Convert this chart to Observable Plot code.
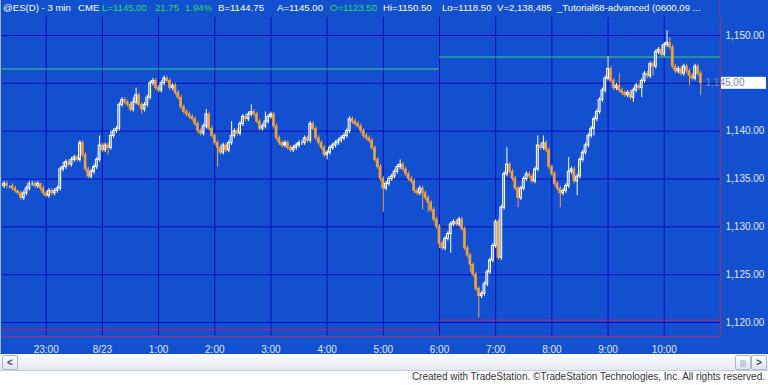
<!DOCTYPE html>
<html>
<head>
<meta charset="utf-8">
<script src="https://cdn.jsdelivr.net/npm/d3@7"></script>
<script src="https://cdn.jsdelivr.net/npm/@observablehq/plot@0.6"></script>
<style>
html,body{margin:0;padding:0;background:#fff;width:768px;height:385px;overflow:hidden;font-family:"Liberation Sans",Arial,sans-serif;}
#wrap{position:relative;width:768px;height:385px;}
#header{position:absolute;left:0;top:0;width:768px;height:17px;background:#1350d0;}
#header span{position:absolute;top:2px;font-size:9.6px;line-height:12px;color:#fff;white-space:nowrap;}
#header span.g{color:#2bdc5c;}
#hdiv{position:absolute;left:719px;top:0;width:1px;height:17px;background:#7a3c8c;}
#chart{position:absolute;left:0;top:17px;}
#lborder{position:absolute;left:0;top:0;width:1px;height:354px;background:#a8b0c0;}
#scroll{position:absolute;left:0;top:354px;width:768px;height:16px;background:linear-gradient(#fdfdff,#e4e8f0);border-bottom:1px solid #c8ccd8;}
.btn{position:absolute;top:1px;width:14px;height:13px;border:1px solid #aab4c8;border-radius:2px;background:linear-gradient(#ffffff,#dfe6f2);font-size:10px;line-height:13px;text-align:center;color:#34507a;font-weight:bold;}
#caption{position:absolute;right:3px;top:371px;font-size:10px;line-height:12px;color:#333;white-space:nowrap;}
</style>
</head>
<body>
<div id="wrap">
  <div id="header">
    <span style="left:3px">@ES(D) - 3 min</span>
    <span style="left:78px">CME</span>
    <span class="g" style="left:102px">L=1145.00</span>
    <span class="g" style="left:155px">21.75</span>
    <span class="g" style="left:185px">1.94%</span>
    <span style="left:218px">B=1144.75</span>
    <span style="left:277px">A=1145.00</span>
    <span class="g" style="left:330px">O=1123.50</span>
    <span style="left:383px">Hi=1150.50</span>
    <span style="left:442px">Lo=1118.50</span>
    <span style="left:497px">V=2,138,485</span>
    <span style="left:557px">_Tutorial68-advanced (0600,09 ...</span>
    <div id="hdiv"></div>
  </div>
  <div id="chart"></div>
  <div id="lborder"></div>
  <div id="scroll">
    <div class="btn" style="left:2px">&lt;</div>
    <div class="btn" style="left:735px;color:#8090b0;font-weight:normal;font-size:8px">|||</div>
    <div class="btn" style="left:751px">&gt;</div>
  </div>
  <div id="caption">Created with TradeStation. ©TradeStation Technologies, Inc. All rights reserved.</div>
</div>
<script>
// ---- data ----
const startMinute = 15;      // 22:15, minutes after 22:00
const barMinutes = 3;
const firstOpen = 1134.25;
const closes = [
1134.50,1134.25,1134.25,1134.00,1133.75,1133.50,1133.00,1133.50,1134.00,1134.50,
1134.50,1134.25,1134.50,1134.00,1133.50,1133.25,1133.75,1133.50,1133.75,1134.00,
1136.00,1136.25,1136.75,1136.50,1137.00,1137.25,1137.00,1138.75,1137.50,1136.00,
1135.25,1135.75,1136.25,1137.00,1138.50,1138.00,1138.50,1138.25,1139.50,1140.00,
1140.25,1142.75,1143.25,1143.00,1142.75,1142.25,1143.00,1143.75,1142.75,1142.25,
1142.75,1143.50,1145.00,1145.25,1144.50,1144.25,1145.00,1145.50,1145.25,1144.50,
1144.75,1144.00,1143.50,1142.50,1142.00,1141.75,1141.50,1141.25,1140.75,1140.00,
1139.75,1140.50,1141.75,1140.25,1139.50,1138.75,1138.25,1137.75,1138.50,1138.00,
1138.75,1139.50,1140.00,1139.75,1140.75,1141.50,1141.25,1141.75,1142.00,1141.75,
1141.00,1140.25,1140.50,1141.00,1141.50,1141.75,1140.50,1139.25,1138.75,1138.50,
1138.75,1138.25,1138.00,1138.25,1138.50,1138.75,1138.75,1139.25,1139.00,1140.75,
1140.25,1139.25,1138.75,1138.25,1137.50,1137.75,1138.25,1138.50,1138.75,1139.00,
1139.25,1139.50,1140.00,1141.25,1141.00,1140.75,1140.50,1140.00,1139.50,1139.25,
1139.00,1138.25,1137.00,1136.25,1135.00,1134.00,1134.50,1135.00,1135.25,1135.75,
1136.25,1136.50,1136.00,1135.50,1135.00,1134.75,1133.75,1133.50,1134.00,1133.50,
1133.00,1132.50,1131.75,1130.75,1130.00,1128.25,1127.75,1128.75,1129.25,1130.25,
1130.50,1130.25,1130.75,1129.75,1127.75,1127.00,1126.00,1125.00,1123.50,1122.75,
1123.00,1124.00,1125.25,1126.50,1128.00,1130.50,1126.75,1132.00,1135.50,1136.50,
1135.75,1135.00,1134.00,1133.00,1134.00,1135.00,1135.50,1135.25,1134.75,1136.00,
1138.50,1138.25,1138.75,1138.00,1136.25,1135.50,1134.50,1134.00,1133.50,1133.75,
1134.25,1135.75,1136.00,1134.75,1135.25,1137.00,1137.75,1138.50,1139.50,1140.25,
1141.25,1142.00,1143.25,1144.25,1145.50,1146.50,1145.25,1144.50,1144.75,1144.25,
1144.00,1143.75,1144.00,1143.50,1144.25,1144.75,1144.50,1145.25,1146.00,1145.75,
1147.00,1146.75,1148.25,1148.50,1148.00,1149.00,1149.25,1148.75,1146.75,1146.25,
1146.50,1146.00,1146.75,1146.25,1145.75,1145.50,1146.75,1146.00,1145.00
];
// upper / lower wick length of each bar, in ticks of 0.25
const wickHi = [
1,1,0,1,1,0,1,1,1,1, 1,1,1,0,1,1,1,1,1,1, 1,2,1,1,1,1,1,1,1,1, 1,1,1,1,4,1,1,1,2,1,
1,1,1,1,1,1,2,3,1,1, 1,1,1,1,1,1,1,1,1,1, 1,1,1,1,1,1,1,1,1,1, 1,1,2,1,1,1,1,1,1,1,
1,6,1,1,1,1,1,1,3,1, 1,1,1,4,1,1,1,1,1,1, 1,1,1,1,1,1,1,1,1,1, 1,1,1,1,1,1,1,1,1,1,
1,1,1,1,1,1,1,1,1,1, 1,1,1,1,1,1,1,1,1,1, 1,2,1,1,1,1,1,1,1,1, 1,1,1,1,1,1,1,1,1,1,
1,1,1,1,1,1,1,1,1,1, 1,1,1,1,1,1,1,1,1,7, 1,1,1,1,1,1,1,1,1,1, 4,1,3,1,1,1,1,1,1,1,
1,6,1,1,1,1,1,1,1,1, 1,1,1,1,1,5,1,1,1,5, 1,1,1,1,1,1,1,1,1,1, 1,1,1,1,2,1,5,2,1,1,
1,1,1,1,1,1,1,1,1
];
const wickLo = [
1,1,1,1,1,1,1,1,1,1, 1,1,1,1,1,1,1,1,1,1, 1,1,1,1,1,1,1,1,1,1, 1,1,1,1,1,1,1,3,1,1,
1,1,1,1,1,1,1,1,1,2, 1,1,1,1,1,1,1,1,1,1, 1,1,1,1,1,1,1,1,1,1, 1,1,1,1,1,1,8,1,1,1,
1,1,1,1,1,1,1,1,1,1, 1,1,1,1,1,1,1,1,1,1, 1,1,1,1,1,1,1,1,1,1, 1,1,1,1,1,2,1,1,1,1,
1,1,1,1,1,1,1,1,1,1, 1,1,1,1,1,10,1,1,1,1, 1,1,1,1,1,1,1,1,1,7, 1,4,1,1,1,2,1,1,1,8,
1,1,1,1,1,1,3,1,1,9, 1,1,1,1,1,1,1,1,1,1, 1,1,1,4,1,1,1,1,1,1, 1,1,1,1,1,1,1,1,6,1,
1,1,1,1,6,1,1,1,1,1, 3,1,1,1,1,1,1,1,1,1, 1,1,1,1,2,1,1,4,1,1, 1,4,1,1,1,1,1,1,1,1,
1,1,1,1,4,1,1,1,5
];
const xTicks  = [60, 120, 180, 240, 300, 360, 420, 480, 540, 600, 660, 720];
const xLabels = ["23:00","8/23","1:00","2:00","3:00","4:00","5:00","6:00","7:00","8:00","9:00","10:00"];
const yTicks  = [1120, 1125, 1130, 1135, 1140, 1145, 1150];
const levelPrice = [1146.50, 1119.25, 1147.75, 1120.25];
const levelFrom  = [13.3, 13.3, 480, 480];
const levelTo    = [480, 480, 780.1, 780.1];
const levelKind  = ["high", "low", "high", "low"];
const lastPrice = 1145.00;
const xDomain = [13.3, 780.1];
const yDomain = [1118.54, 1151.88];

// ---- build ----
const bgBlue = "#1350d0", gridBlue = "#0a0ac4", orange = "#f2a23c", frameCol = "#7a3c8c";
const bars = closes.map((c, i) => {
  const o = i === 0 ? firstOpen : closes[i - 1];
  return {
    t: startMinute + barMinutes * i, open: o, close: c,
    high: Math.max(o, c) + wickHi[i] * 0.25,
    low: Math.min(o, c) - wickLo[i] * 0.25,
    up: c >= o
  };
});
const levels = levelPrice.map((p, i) => ({price: p, from: levelFrom[i], to: levelTo[i], kind: levelKind[i]}));
const labelOf = new Map(xTicks.map((t, i) => [t, xLabels[i]]));
const fmt = d3.format(",.2f");

const chart = Plot.plot({
  width: 768, height: 337,
  marginTop: 0, marginBottom: 18, marginLeft: 2, marginRight: 48,
  style: {background: bgBlue, fontFamily: "Liberation Sans, Arial, sans-serif", fontSize: "10px"},
  x: {domain: xDomain, axis: null},
  y: {domain: yDomain, axis: null},
  marks: [
    Plot.ruleY(yTicks, {stroke: gridBlue, strokeWidth: 1}),
    Plot.ruleX(xTicks, {stroke: gridBlue, strokeWidth: 1}),
    Plot.ruleY(levels, {y: "price", x1: "from", x2: "to", stroke: d => d.kind === "high" ? "#34d27a" : "#b8246e"}),
    Plot.ruleX(bars, {x: "t", y1: "low", y2: "high", stroke: d => d.up ? "#ffffff" : orange, strokeWidth: 1}),
    Plot.rect(bars.filter(d => !d.up), {x1: d => d.t - 1.1, x2: d => d.t + 1.1, y1: "open", y2: "close", fill: orange, stroke: orange, strokeWidth: 0.6}),
    Plot.rect(bars.filter(d => d.up), {x1: d => d.t - 1.0, x2: d => d.t + 1.0, y1: "open", y2: "close", fill: "#5c82dc", stroke: "#ffffff", strokeWidth: 1}),
    Plot.ruleY([yDomain[0]], {stroke: frameCol, strokeWidth: 1.5}),
    Plot.ruleX([xDomain[1]], {stroke: frameCol, strokeWidth: 1.5}),
    Plot.axisY(yTicks.filter(v => v !== lastPrice), {anchor: "right", tickSize: 0, tickPadding: 5, tickFormat: fmt, fill: "#e4e6f0", fontSize: 10}),
    Plot.axisX(xTicks, {anchor: "bottom", tickSize: 0, tickPadding: 9, tickFormat: d => labelOf.get(d), fill: "#e4e6f0", fontSize: 10})
  ]
});
document.getElementById("chart").appendChild(chart);

// last-price marker on the right axis
const ys = chart.scale("y");
const yLast = ys.apply(lastPrice);
const svg = d3.select(chart);
svg.append("rect").attr("x", 721).attr("y", yLast - 6).attr("width", 45).attr("height", 12).attr("fill", "#ffffff");
svg.append("text").attr("x", 725).attr("y", yLast).attr("dy", "0.32em")
  .attr("font-size", 10).attr("font-family", "Liberation Sans, Arial, sans-serif")
  .attr("fill", "#7888a8").text(fmt(lastPrice));
</script>
</body>
</html>
